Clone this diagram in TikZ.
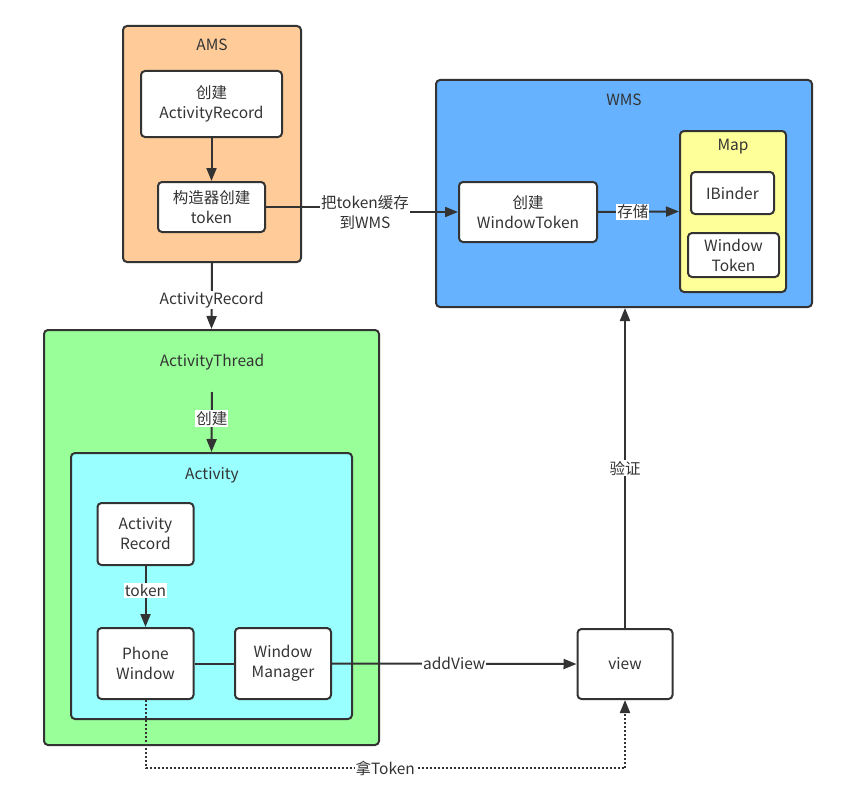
\documentclass[tikz,border=0pt]{standalone}
\usepackage{fontspec}
\setmainfont{Noto Sans CJK SC}
\usetikzlibrary{arrows.meta}
\definecolor{ln}{HTML}{333333}
\definecolor{amsc}{HTML}{FFCC99}
\definecolor{wmsc}{HTML}{66B2FF}
\definecolor{mapc}{HTML}{FFFF99}
\definecolor{atc}{HTML}{99FF99}
\definecolor{actc}{HTML}{99FFFF}
\newcommand{\fs}{\fontsize{15.5}{20}\selectfont}
\begin{document}
\begin{tikzpicture}[x=1pt,y=-1pt,
  box/.style={draw=ln, line width=2pt, rounded corners=4pt, fill=white, inner sep=0pt, align=center, text=ln, font=\fs},
  ttl/.style={text=ln, font=\fs, inner sep=1pt},
  lbl/.style={fill=white, inner sep=1pt, text=ln, font=\fs, align=center},
  arr/.style={draw=ln, line width=2pt, -{Triangle[length=13pt,width=10pt]}},
  plain/.style={draw=ln, line width=2pt},
  dots/.style={draw=ln, line width=2pt, dash pattern=on 2pt off 2pt, -{Triangle[length=13pt,width=10pt]}}
]
\fill[white] (0,0) rectangle (846,800);
\useasboundingbox (0,0) rectangle (846,800);

% AMS
\node[box, fill=amsc, minimum width=178pt, minimum height=236pt] (ams) at (212,144) {};
\node[ttl] (amst) at (212,45) {AMS};
\node[box, minimum width=141pt, minimum height=66pt] (car) at (211.5,104) {创建\\ActivityRecord};
\node[box, minimum width=107pt, minimum height=50pt] (tok) at (211.5,207) {构造器创建\\token};

% WMS
\node[box, fill=wmsc, minimum width=376pt, minimum height=227pt] (wms) at (624,193.5) {};
\node[ttl] (wmst) at (624,100) {WMS};
\node[box, minimum width=138pt, minimum height=60pt] (cwt) at (528,212) {创建\\WindowToken};
\node[box, fill=mapc, minimum width=106pt, minimum height=161pt] (map) at (733,211.5) {};
\node[ttl] (mapt) at (733,147) {Map};
\node[box, minimum width=83pt, minimum height=42pt] (ib) at (732.5,193) {IBinder};
\node[box, minimum width=91pt, minimum height=44pt] (wtk) at (733.5,255) {Window\\Token};

% ActivityThread
\node[box, fill=atc, minimum width=335pt, minimum height=415pt] (at) at (211.5,537.5) {};
\node[ttl] (att) at (212,362) {ActivityThread};
\node[box, fill=actc, minimum width=281pt, minimum height=266pt] (act) at (211.5,586) {};
\node[ttl] (actt) at (212,475) {Activity};
\node[box, minimum width=96pt, minimum height=62pt] (ar) at (145.5,534) {Activity\\Record};
\node[box, minimum width=96pt, minimum height=71pt] (pw) at (145.5,663.5) {Phone\\Window};
\node[box, minimum width=96pt, minimum height=71pt] (wm) at (283,663.5) {Window\\Manager};

% view
\node[box, minimum width=95pt, minimum height=70pt] (view) at (625,664) {view};

% connectors
\draw[arr] (car) -- (tok);
\coordinate (kx) at (365,212);
\draw[arr] (tok.east) -| (kx) |- (cwt.west);
\node[lbl] (kl) at (kx) {把token缓存\\到WMS};
\draw[arr] (ams.south) -- node[lbl, pos=0.56] (l2) {ActivityRecord} (at.north);
\coordinate (ats) at (212,392);
\draw[arr] (ats) -- node[lbl, pos=0.44] (l3) {创建} (act.north);
\draw[arr] (cwt.east) -- node[lbl, pos=0.43] (l4) {存储} (map.west);
\draw[arr] (ar) -- node[lbl, pos=0.40] (l5) {token} (pw);
\draw[plain] (pw) -- (wm);
\draw[arr] (wm.east) -- node[lbl] (l6) {addView} (view.west);
\draw[arr] (view.north) -- node[lbl] (l7) {验证} (view.north |- wms.south);
\coordinate (dy) at (0,768);
\draw[dots] (pw.south) -- (pw.south |- dy) -- node[lbl] (l8) {拿Token} (view.south |- dy) -- (view.south);
\end{tikzpicture}
\end{document}
